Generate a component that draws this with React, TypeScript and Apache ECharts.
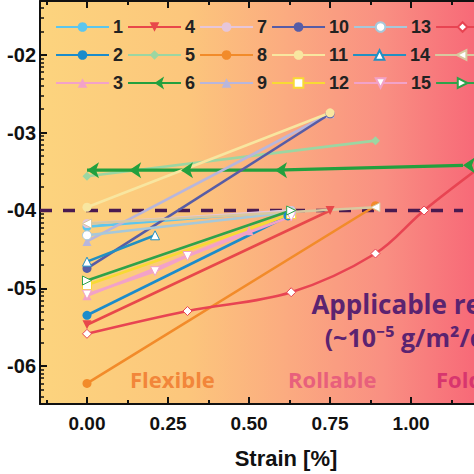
import React, { useEffect, useRef } from "react";
import * as echarts from "echarts";

// ---- axis ticks / labels ----
const xMajorTicks = [0, 0.25, 0.5, 0.75, 1.0, 1.25];
const xMinorTicks = [-0.125, 0.125, 0.375, 0.625, 0.875, 1.125];
const yDecades = [1e-6, 1e-5, 1e-4, 1e-3, 1e-2];
const yMinorMultipliers = [2, 3, 4, 5, 6, 7, 8, 9];
const xRange = [-0.145, 1.373];
const yRange = [3.26e-7, 0.0492];

// ---- series (strain %, WVTR) ----
const s1 = [[0, 6.2e-5], [0.63, 1.0e-4]];
const s2 = [[0, 4.5e-6], [0.62, 8.5e-5]];
const s3 = [[0, 8.0e-6], [0.5, 5.5e-5]];
const s4 = [[0, 3.4e-6], [0.75, 1.0e-4]];
const s5 = [[0, 2.75e-4], [0.89, 7.9e-4]];
const s6 = [[0, 3.3e-4], [0.13, 3.3e-4], [0.29, 3.3e-4], [0.58, 3.3e-4], [1.16, 3.8e-4]];
const s7 = [[0, 6.8e-5], [0.63, 1.0e-4]];
const s8 = [[0, 6.0e-7], [0.89, 1.15e-4]];
const s9 = [[0, 4.0e-5], [0.75, 1.75e-3]];
const s10 = [[0, 1.8e-5], [0.75, 1.75e-3]];
const s11 = [[0, 1.1e-4], [0.75, 1.8e-3]];
const s12 = [[0, 1.1e-5], [0.63, 9.0e-5]];
const s13 = [[0, 4.8e-5], [0.63, 9.5e-5]];
const s14 = [[0, 2.2e-5], [0.21, 4.8e-5]];
const s15 = [[0, 8.3e-6], [0.21, 1.66e-5], [0.31, 2.6e-5], [0.63, 8.4e-5]];
const s16 = [[0, 2.6e-6], [0.31, 5.1e-6], [0.63, 8.9e-6], [0.89, 2.8e-5], [1.04, 1.0e-4], [1.25, 4.7e-4]];
const s17 = [[0, 6.8e-5], [0.89, 1.1e-4]];
const s18 = [[0, 1.26e-5], [0.63, 1.0e-4]];

const seriesData = [s1, s2, s3, s4, s5, s6, s7, s8, s9, s10, s11, s12, s13, s14, s15, s16, s17, s18];
const seriesNames = ["1", "2", "3", "4", "5", "6", "7", "8", "9", "10", "11", "12", "13", "14", "15", "16", "17", "18"];
const lineColors = [
  "#5cc6ee", "#1b8ccb", "#f3a2c8", "#e8484a", "#9cd6a2", "#22a03e",
  "#e6c6da", "#f28b2a", "#b8b6dc", "#575ca6", "#f8e6a0", "#f8da34",
  "#a6c8da", "#2290c2", "#f2a2c8", "#e84452", "#d8c8a0", "#2ea24a",
];
const symbols = [
  "circle", "circle", "triangle", "triangle", "diamond", "arrow",
  "circle", "circle", "triangle", "circle", "circle", "rect",
  "circle", "triangle", "triangle", "diamond", "triangle", "triangle",
];
const symbolRotations = [0, 0, 0, 180, 0, 90, 0, 0, 0, 0, 0, 0, 0, 0, 180, 0, 90, -90];
const whiteMarker = [false, false, false, false, false, false, false, false, false, false, false, true, true, true, true, true, true, true];

const legendRows = [
  ["1", "4", "7", "10", "13", "16"],
  ["2", "5", "8", "11", "14", "17"],
  ["3", "6", "9", "12", "15", "18"],
];

const thresholdValue = 1e-4;
const thresholdX = [-0.145, 1.16];

const AXIS_FONT = "'Liberation Sans', Arial, sans-serif";
const TEXT_FONT = "'Open Sans', 'Noto Sans', sans-serif";

export default function App() {
  const ref = useRef<HTMLDivElement>(null);

  useEffect(() => {
    if (!ref.current) return;
    const chart = echarts.init(ref.current, undefined, { renderer: "svg" });

    const yMinor: number[] = [];
    [-7, -6, -5, -4, -3, -2].forEach((n) => {
      yMinorMultipliers.forEach((k) => yMinor.push(k * Math.pow(10, n)));
    });

    const axisLineStyle = { color: "#111", width: 2 };

    const xBase = {
      type: "value" as const,
      min: xRange[0],
      max: xRange[1],
      splitLine: { show: false },
      axisPointer: { show: false },
    };
    const yBase = {
      type: "log" as const,
      min: yRange[0],
      max: yRange[1],
      splitLine: { show: false },
      minorTick: { show: false },
    };

    const series: any[] = seriesData.map((d, i) => ({
      name: seriesNames[i],
      type: "line",
      data: d,
      smooth: i === 15 ? 0.35 : false,
      symbol: symbols[i],
      symbolSize: symbols[i] === "arrow" ? 12 : 9,
      symbolRotate: symbolRotations[i],
      lineStyle: { color: lineColors[i], width: i === 5 ? 3.2 : 2.6 },
      itemStyle: {
        color: whiteMarker[i] ? "#ffffff" : lineColors[i],
        borderColor: lineColors[i],
        borderWidth: whiteMarker[i] ? 1 : 0,
      },
      z: 3,
    }));

    series.push({
      name: "threshold",
      type: "line",
      data: [[thresholdX[0], thresholdValue], [thresholdX[1], thresholdValue]],
      symbol: "none",
      lineStyle: { color: "#4a1a50", width: 3.5, type: [12, 11] },
      z: 2,
    });

    const legends = legendRows.map((row, r) => ({
      data: row,
      orient: "horizontal",
      left: 55,
      top: 18 + r * 28,
      padding: 0,
      itemGap: 4,
      itemWidth: 53,
      itemHeight: 12,
      textStyle: { fontSize: 18, fontWeight: "bold", color: "#222", fontFamily: AXIS_FONT, padding: [0, 0, 0, -1] },
      selectedMode: false,
    }));

    chart.setOption({
      animation: false,
      backgroundColor: "#ffffff",
      grid: {
        left: 40,
        right: 28,
        top: 1,
        bottom: 69,
        show: true,
        borderWidth: 0,
        backgroundColor: new echarts.graphic.LinearGradient(0, 0, 1, 0, [
          { offset: 0, color: "#fcd47e" },
          { offset: 0.3, color: "#fcc67c" },
          { offset: 0.5, color: "#fbab80" },
          { offset: 0.7, color: "#f98f82" },
          { offset: 0.88, color: "#f76a78" },
          { offset: 1, color: "#f65a72" },
        ]),
      },
      legend: legends,
      xAxis: [
        {
          ...xBase,
          position: "bottom",
          axisLine: { show: true, onZero: false, lineStyle: axisLineStyle },
          axisTick: { show: true, inside: true, length: 7, customValues: xMajorTicks, lineStyle: { width: 2, color: "#111" } },
          axisLabel: {
            customValues: xMajorTicks,
            formatter: (v: number) => v.toFixed(2),
            fontSize: 19,
            fontWeight: "bold",
            color: "#111",
            fontFamily: AXIS_FONT,
            margin: 10,
          },
          name: "Strain [%]",
          nameLocation: "middle",
          nameGap: 43,
          nameTextStyle: { fontSize: 22, fontWeight: "bold", color: "#111", fontFamily: AXIS_FONT },
        },
        {
          ...xBase,
          position: "bottom",
          axisLine: { show: false, onZero: false },
          axisTick: { show: true, inside: true, length: 4, customValues: xMinorTicks, lineStyle: { width: 2, color: "#111" } },
          axisLabel: { show: false },
        },
        {
          ...xBase,
          position: "top",
          axisLine: { show: true, onZero: false, lineStyle: axisLineStyle },
          axisTick: { show: true, inside: true, length: 7, customValues: xMajorTicks, lineStyle: { width: 2, color: "#111" } },
          axisLabel: { show: false },
        },
        {
          ...xBase,
          position: "top",
          axisLine: { show: false, onZero: false },
          axisTick: { show: true, inside: true, length: 4, customValues: xMinorTicks, lineStyle: { width: 2, color: "#111" } },
          axisLabel: { show: false },
        },
      ],
      yAxis: [
        {
          ...yBase,
          position: "left",
          axisLine: { show: true, onZero: false, lineStyle: axisLineStyle },
          axisTick: { show: true, inside: true, length: 7, customValues: yDecades, lineStyle: { width: 2, color: "#111" } },
          axisLabel: {
            customValues: yDecades,
            formatter: (v: number) => {
              const e = Math.round(Math.log10(v));
              return "-" + String(Math.abs(e)).padStart(2, "0");
            },
            fontSize: 20,
            fontWeight: "bold",
            color: "#111",
            fontFamily: AXIS_FONT,
            margin: 4,
          },
        },
        {
          ...yBase,
          position: "left",
          axisLine: { show: false, onZero: false },
          axisTick: { show: true, inside: true, length: 4, customValues: yMinor, lineStyle: { width: 1.5, color: "#111" } },
          axisLabel: { show: false },
        },
      ],
      graphic: [
        {
          type: "text",
          x: 424,
          y: 304,
          z: 10,
          style: {
            text: "Applicable region",
            fill: "#5b2370",
            font: `bold 26px ${TEXT_FONT}`,
            textAlign: "center",
            textVerticalAlign: "middle",
          },
        },
        {
          type: "text",
          x: 424,
          y: 337,
          z: 10,
          style: {
            text: "(~10\u207B\u2075 g/m\u00B2/day)",
            fill: "#5b2370",
            font: `bold 25px ${TEXT_FONT}`,
            textAlign: "center",
            textVerticalAlign: "middle",
          },
        },
        {
          type: "text",
          x: 130,
          y: 379,
          z: 10,
          style: { text: "Flexible", fill: "#f2863a", font: `bold 22px ${TEXT_FONT}`, textAlign: "left", textVerticalAlign: "middle" },
        },
        {
          type: "text",
          x: 288,
          y: 379,
          z: 10,
          style: { text: "Rollable", fill: "#e8607c", font: `bold 22px ${TEXT_FONT}`, textAlign: "left", textVerticalAlign: "middle" },
        },
        {
          type: "text",
          x: 436,
          y: 379,
          z: 10,
          style: { text: "Foldable", fill: "#d8366e", font: `bold 22px ${TEXT_FONT}`, textAlign: "left", textVerticalAlign: "middle" },
        },
      ],
      series,
    });

    return () => chart.dispose();
  }, []);

  return (
    <div style={{ position: "fixed", left: 0, top: 0, width: 474, height: 474, overflow: "hidden", background: "#fff" }}>
      <div ref={ref} style={{ width: 560, height: 474 }} />
    </div>
  );
}
